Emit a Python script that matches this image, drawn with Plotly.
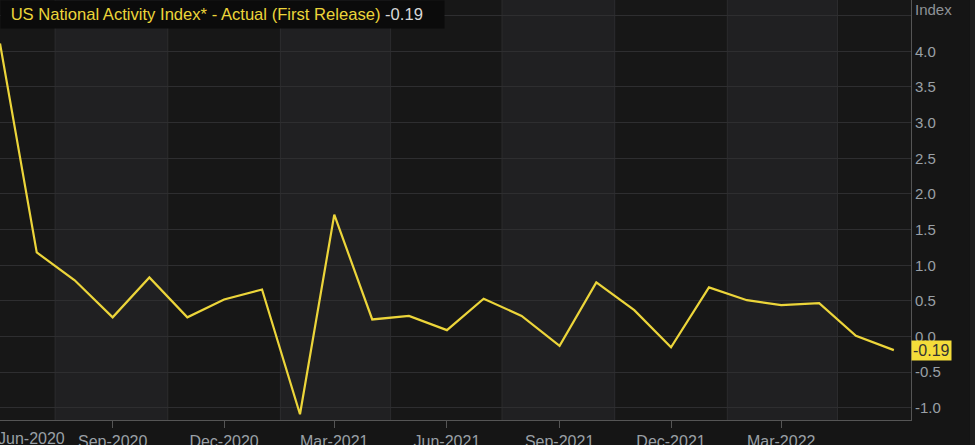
import plotly.graph_objects as go

months = ["2020-06-01", "2020-07-01", "2020-08-01", "2020-09-01", "2020-10-01", "2020-11-01",
          "2020-12-01", "2021-01-01", "2021-02-01", "2021-03-01", "2021-04-01", "2021-05-01",
          "2021-06-01", "2021-07-01", "2021-08-01", "2021-09-01", "2021-10-01", "2021-11-01",
          "2021-12-01", "2022-01-01", "2022-02-01", "2022-03-01", "2022-04-01", "2022-05-01",
          "2022-06-01"]
values = [4.11, 1.18, 0.79, 0.27, 0.83, 0.27, 0.52, 0.66, -1.09, 1.71, 0.24, 0.29, 0.09,
          0.53, 0.29, -0.13, 0.76, 0.37, -0.15, 0.69, 0.51, 0.44, 0.47, 0.01, -0.19]

tick_dates = ["2020-09-01", "2020-12-01", "2021-03-01", "2021-06-01", "2021-09-01",
              "2021-12-01", "2022-03-01"]
tick_labels = ["Sep-2020", "Dec-2020", "Mar-2021", "Jun-2021", "Sep-2021", "Dec-2021", "Mar-2022"]
first_label = "Jun-2020"

y_ticks = [-1.0, -0.5, 0.0, 0.5, 1.0, 1.5, 2.0, 2.5, 3.0, 3.5, 4.0, 4.5]
y_labels = ["-1.0", "-0.5", "0.0", "0.5", "1.0", "1.5", "2.0", "2.5", "3.0", "3.5", "4.0", ""]

band_edges = ["2020-07-16", "2020-10-16", "2021-01-16", "2021-04-16", "2021-07-16",
              "2021-10-16", "2022-01-16", "2022-04-16"]

title_text = "US National Activity Index* - Actual (First Release)"
last_text = "-0.19"

YELLOW = "#ecd53a"
FONT = "Liberation Sans"

fig = go.Figure()
fig.add_trace(go.Scatter(x=months, y=values, mode="lines",
                         line=dict(color=YELLOW, width=2.2), hoverinfo="skip"))

shapes = []
for i in range(0, len(band_edges) - 1, 2):
    shapes.append(dict(type="rect", xref="x", yref="paper", x0=band_edges[i], x1=band_edges[i + 1],
                       y0=0, y1=1, fillcolor="#202022", line=dict(width=0), layer="below"))
for d in band_edges:
    shapes.append(dict(type="line", xref="x", yref="paper", x0=d, x1=d, y0=0, y1=1,
                       line=dict(color="#2c2c2e", width=1), layer="below"))
shapes.append(dict(type="rect", xref="paper", yref="paper", x0=1.0647, x1=1.2, y0=-0.2, y1=1.1,
                   fillcolor="#1e1e1e", line=dict(width=0), layer="below"))

annotations = [
    dict(xref="paper", yref="paper", x=0, y=1, xanchor="left", yanchor="top",
         text=f"&nbsp;<span style='color:{YELLOW}'>{title_text}</span> <span style='color:#d8d8d8'>{last_text}</span>",
         showarrow=False, bgcolor="#0b0b0b", width=433, height=17, align="left",
         borderpad=5, font=dict(family=FONT, size=16.6)),
    dict(xref="paper", yref="paper", x=1, y=1, xanchor="left", yanchor="top", xshift=2, yshift=1,
         text="Index", showarrow=False, font=dict(family=FONT, size=15, color="#8e9297")),
    dict(xref="paper", yref="y", x=1, y=values[-1], xanchor="left", yanchor="middle",
         text=last_text, showarrow=False, bgcolor="#f4dc3a", borderpad=1, xshift=0,
         font=dict(family=FONT, size=16, color="#333333")),
    dict(xref="paper", yref="paper", x=0, y=0, xanchor="left", yanchor="top", xshift=-4, yshift=-8,
         text=first_label, showarrow=False, font=dict(family=FONT, size=16, color="#9aa0a6")),
]

fig.update_layout(
    width=975, height=445,
    margin=dict(l=0, r=64, t=0, b=25),
    paper_bgcolor="#151515", plot_bgcolor="#171717",
    showlegend=False,
    shapes=shapes, annotations=annotations,
    xaxis=dict(type="date", range=["2020-06-01", "2022-06-15"], showgrid=False, zeroline=False,
               automargin=False,
               tickvals=tick_dates, ticktext=tick_labels, ticks="outside", ticklen=7,
               tickcolor="#555555", showline=True, linecolor="#555555", linewidth=1,
               tickfont=dict(family=FONT, size=16, color="#9aa0a6")),
    yaxis=dict(side="right", range=[-1.17, 4.72], tickvals=y_ticks, ticktext=y_labels,
               automargin=False,
               showgrid=True, gridcolor="#2e2e30", gridwidth=1, zeroline=False,
               showline=True, linecolor="#555555", mirror=False, ticks="",
               tickfont=dict(family=FONT, size=15, color="#9aa0a6")),
)

fig.write_html("out.html", config={"displayModeBar": False},
               post_script="document.body.style.margin='0';document.body.style.background='#151515';")
